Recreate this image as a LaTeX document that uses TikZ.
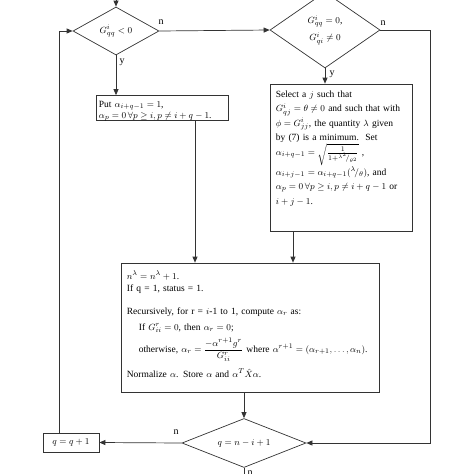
\documentclass[tikz,border=0pt]{standalone}
\usepackage{amsmath}
\usepackage{fontspec}
\setmainfont{Liberation Serif}
\usetikzlibrary{shapes.geometric,arrows.meta}
\tikzset{
  ln/.style={draw=black!80, line width=0.7pt},
  arr/.style={ln, -{Triangle[length=6pt,width=5pt]}},
  box/.style={draw=black!80, line width=0.7pt, rectangle, inner sep=0pt},
  txt/.style={anchor=north west, inner sep=0pt, align=left, font=\fontsize{9.5}{11.5}\selectfont},
  dia/.style={draw=black!80, line width=0.7pt, diamond, aspect=2, inner sep=0pt, align=center, font=\fontsize{9.5}{13}\selectfont},
  lbl/.style={font=\fontsize{10}{11}\selectfont, inner sep=0pt}
}
\begin{document}
\begin{tikzpicture}[x=1pt,y=-1pt]
\useasboundingbox (0,0) rectangle (474,474);
% decisions
\node[dia, minimum width=86pt, minimum height=48pt] (d1) at (116,31) {$G^{i}_{qq}<0$};
\node[dia, minimum width=110pt, minimum height=76pt] (d2) at (325,30) {$G^{i}_{qq}=0$,\\[4pt] $G^{i}_{qi}\neq 0$};
\node[dia, minimum width=124pt, minimum height=49pt] (d3) at (244,443) {$q=n-i+1$};
% boxes
\node[box, minimum width=132pt, minimum height=25pt] (b1) at (162,108) {};
\node[txt, text width=126pt] (t1) at ([shift={(3,5.5)}]b1.north west)
  {Put $\alpha_{i+q-1}=1$,\\ $\alpha_{p}=0\,\forall p\geq i, p\neq i+q-1$.};
\node[box, minimum width=142pt, minimum height=147pt] (b2) at (341,157.5) {};
\node[txt, text width=134pt, font=\fontsize{9.5}{14.5}\selectfont] (t2) at ([shift={(6,7)}]b2.north west)
  {Select a $j$ such that\\
   $G^{i}_{qj}=\theta\neq 0$ and such that with\\
   $\phi=G^{i}_{jj}$, the quantity $\lambda$ given\\
   by (7) is a minimum.\ \ Set\\[0pt]
   $\alpha_{i+q-1}=\sqrt{\frac{1}{1+{}^{\lambda^2}\!/_{\theta^2}}}$\ ,\\[0pt]
   $\alpha_{i+j-1}=\alpha_{i+q-1}({}^{\lambda}\!/_{\theta})$, and\\
   $\alpha_{p}=0\,\forall p\geq i, p\neq i+q-1$ or\\
   $i+j-1$.};
\node[box, minimum width=258pt, minimum height=129pt] (bb) at (250,327.5) {};
\node[txt, text width=250pt] (tb) at ([shift={(6,8)}]bb.north west)
  {$n^{\lambda}=n^{\lambda}+1$.\\
   If q = 1, status = 1.\\[12pt]
   Recursively, for r = $i$-1 to 1, compute $\alpha_{r}$ as:\\[4pt]
   \hspace*{12pt}If $G^{r}_{ii}=0$, then $\alpha_{r}=0$;\\[5pt]
   \hspace*{12pt}otherwise, $\alpha_{r}=\dfrac{-\alpha^{r+1}g^{r}}{G^{r}_{ii}}$ where $\alpha^{r+1}=(\alpha_{r+1},\ldots,\alpha_{n})$.\\[6pt]
   Normalize $\alpha$. Store $\alpha$ and $\alpha^{T}\hat{X}\alpha$.};
\node[box, minimum width=56pt, minimum height=19pt, font=\fontsize{9.5}{11.5}\selectfont] (bq) at (71,442.5) {$q=q+1$};
% helper coordinates
\coordinate (top) at (116,-10);
\coordinate (c1) at (195,0);
\coordinate (c2) at (293,0);
\coordinate (cr) at (430,0);
\coordinate (cl) at (59,0);
\coordinate (bot) at (244,490);
% connectors
\draw[arr] (top) -- (d1.north);
\draw[arr] (d1.east) -- (d2.west);
\draw[arr] (d1.south) -- (d1.south |- b1.north);
\draw[arr] (b1.south -| c1) -- (c1 |- bb.north);
\draw[arr] (d2.south) -- (d2.south |- b2.north);
\draw[arr] (b2.south -| c2) -- (c2 |- bb.north);
\draw[arr] (d2.east) -- (cr |- d2.east) -- (cr |- d3.east) -- (d3.east);
\draw[arr] (d3.north |- bb.south) -- (d3.north);
\draw[arr] (d3.west) -- (bq.east);
\draw[arr] (cl |- bq.north) -- (cl |- d1.west) -- (d1.west);
\draw[ln] (d3.south) -- (bot);
% labels
\node[lbl] (ln1) at (161,22) {n};
\node[lbl] (ly1) at (122,62) {y};
\node[lbl] (ln2) at (383,23) {n};
\node[lbl] (ly2) at (332,74) {y};
\node[lbl] (ln3) at (176,432) {n};
\node[lbl] (ln4) at (250,473) {n};
\end{tikzpicture}
\end{document}
